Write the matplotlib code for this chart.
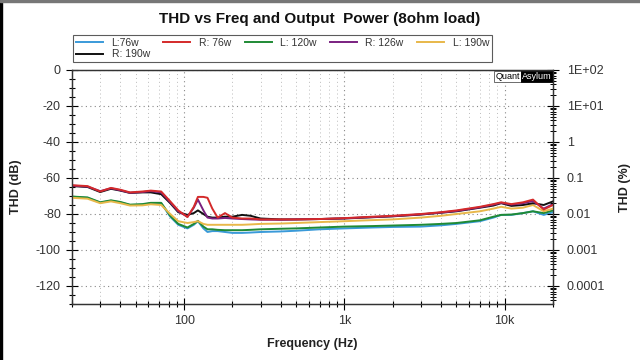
import matplotlib
matplotlib.use("Agg")
import matplotlib.pyplot as plt
import matplotlib.ticker as mticker
from matplotlib.patches import Rectangle
import numpy as np

plt.rcParams['font.family'] = ['Liberation Sans', 'DejaVu Sans']
plt.rcParams['axes.unicode_minus'] = False

freq = [20, 25, 30, 35, 40, 46, 55, 62, 72, 82, 92, 105, 115, 122, 132, 140, 150, 162, 180, 200,
        230, 260, 300, 400, 500, 700, 1000, 1500, 2000, 3000, 4000, 5000, 7000, 8500, 9500,
        11000, 13000, 15000, 17500, 20000]

l76 = [-70.5, -71, -73.7, -72.6, -73.5, -75, -74.8, -74, -74, -81.5, -86, -88, -86, -84, -88, -90,
       -89.5, -89.5, -90, -90.5, -90.5, -90.3, -90, -89.7, -89.3, -88.5, -88, -87.5, -87.2, -87,
       -86.3, -85.5, -84, -82, -80.5, -80.5, -79.5, -78.5, -80.5, -79]
r76 = [-64, -64.5, -67.5, -65.5, -66.5, -68, -67.5, -67, -67.5, -73, -78, -81.7, -76, -70.5, -70.5,
       -71, -77, -82, -79.5, -82, -82.5, -82.5, -83, -83, -83, -82.8, -82.3, -81.5, -81, -80,
       -79, -78, -76, -74.5, -73.5, -74.5, -73.5, -72, -77.5, -75]
l120 = [-70.3, -70.8, -73.5, -72.4, -73.3, -74.8, -74.5, -73.8, -73.8, -81, -85.5, -87.5, -85.5,
        -83.8, -87, -88.5, -88.5, -88.8, -89, -89, -89, -88.8, -88.5, -88.2, -88, -87.5, -87,
        -86.7, -86.4, -86, -85.5, -85, -83.5, -81.5, -80.5, -80.3, -79.5, -78.5, -79.5, -78]
r126 = [-64.2, -64.8, -67.3, -65.7, -66.8, -68.2, -67.8, -67.3, -68, -73.5, -78.5, -81.5, -76.5,
        -72, -78, -82, -82.5, -82.5, -82.2, -82.5, -82.8, -83, -83.2, -83.2, -83, -82.8, -82.4,
        -81.7, -81.2, -80.2, -79.2, -78.3, -76.3, -74.8, -73.8, -74.8, -74, -72.8, -77, -74.5]
l190 = [-71, -71.5, -74, -73, -74, -75.3, -75.2, -74.6, -75, -80, -84, -85, -84.5, -84, -85.5,
        -86, -86, -86, -86, -86, -86, -85.8, -85.5, -85.3, -85, -84.5, -84, -83.4, -83, -82,
        -81, -80, -78.5, -77, -76, -77, -76.5, -75, -78.5, -77]
r190 = [-64.5, -65, -67.8, -66, -67, -68.3, -68, -68, -69, -74, -79, -80.5, -79.5, -78, -80,
        -81.5, -82, -82, -81.5, -81.5, -80.5, -81, -82.5, -83, -83, -82.8, -82.5, -81.8, -81.3,
        -80.3, -79.3, -78.5, -76.5, -75.3, -74, -75.5, -75, -74, -75, -73]

labels = ["L:76w", "R: 76w", "L: 120w", "R: 126w", "L: 190w", "R: 190w"]
colors = ["#3a9ad9", "#d42a2a", "#1f8a35", "#7a2080", "#e8b84a", "#101010"]
series = [l76, r76, l120, r126, l190, r190]
zorders = [3, 7, 4, 6, 5, 5.5]

pct_ticks = [1e2, 1e1, 1, 0.1, 0.01, 0.001, 0.0001]
pct_labels = ["1E+02", "1E+01", "1", "0.1", "0.01", "0.001", "0.0001"]

fig = plt.figure(figsize=(6.4, 3.6), dpi=100)
ax = fig.add_axes([72/640, 1-304/360, (553-72)/640, (304-70)/360])

lines = []
for y, lab, c, z in zip(series, labels, colors, zorders):
    ln, = ax.plot(freq, y, color=c, lw=1.4, label=lab, zorder=z)
    lines.append(ln)

ax.set_xscale('log')
ax.set_xlim(20, 20000)
ax.set_ylim(-130, 0)
ax.set_yticks(np.arange(-120, 1, 20))
ax.yaxis.set_minor_locator(mticker.MultipleLocator(5))
ax.xaxis.set_major_locator(mticker.FixedLocator([100, 1000, 10000]))
ax.xaxis.set_major_formatter(mticker.FixedFormatter(["100", "1k", "10k"]))
ax.xaxis.set_minor_locator(mticker.LogLocator(base=10, subs=np.arange(2, 10)))
ax.xaxis.set_minor_formatter(mticker.NullFormatter())

ax.grid(True, which='major', color='#888888', linestyle=(0, (1, 3)), lw=0.8)
ax.grid(True, which='minor', axis='x', color='#bbbbbb', linestyle=(0, (1, 3)), lw=0.7)

ax.tick_params(which='major', direction='inout', length=8, width=0.8, labelsize=9,
               labelcolor='#333333', pad=4)
ax.tick_params(which='minor', direction='inout', length=5, width=0.8)
for s in ax.spines.values():
    s.set_color('#333333')
    s.set_linewidth(0.9)

ax.set_xlabel("Frequency (Hz)", fontsize=9, fontweight='bold', color='#222222', labelpad=8)
ax.set_ylabel("THD (dB)", fontsize=9, fontweight='bold', color='#222222', labelpad=10)

ax2 = ax.twinx()
ax2.set_yscale('log')
ax2.set_ylim(100 * 10 ** (-130 / 20), 100)
ax2.yaxis.set_major_locator(mticker.FixedLocator(pct_ticks))
ax2.yaxis.set_major_formatter(mticker.FixedFormatter(pct_labels))
ax2.yaxis.set_minor_locator(mticker.LogLocator(base=10, subs=np.arange(2, 10)))
ax2.yaxis.set_minor_formatter(mticker.NullFormatter())
ax2.tick_params(which='major', direction='inout', length=8, width=0.8, labelsize=9,
                labelcolor='#333333', pad=6)
ax2.tick_params(which='minor', direction='inout', length=5, width=0.7)
ax2.set_ylabel("THD (%)", fontsize=9, fontweight='bold', color='#222222', labelpad=10)
for s in ax2.spines.values():
    s.set_color('#333333')
    s.set_linewidth(0.9)

# QuantAsylum logo
ax.text((520-72)/481, 0.993, "Quant", transform=ax.transAxes, fontsize=6.5, color='black',
        ha='right', va='top', bbox=dict(boxstyle='square,pad=0.12', fc='white', ec='#555555', lw=0.6),
        zorder=10)
ax.text((522-72)/481, 0.993, "Asylum", transform=ax.transAxes, fontsize=6.5, color='white',
        ha='left', va='top', bbox=dict(boxstyle='square,pad=0.12', fc='black', ec='black', lw=0.6),
        zorder=10)

fig.suptitle("THD vs Freq and Output  Power (8ohm load)", x=0.5, y=0.967, fontsize=11,
             fontweight='bold', color='#111111')

order = [0, 5, 1, 2, 3, 4]
leg = fig.legend(handles=[lines[i] for i in order], labels=[labels[i] for i in order],
                 loc='upper left', bbox_to_anchor=(73/640, 1-35/360), ncol=5, fontsize=7.5,
                 frameon=True, fancybox=False, edgecolor='#333333', handlelength=2.6,
                 handletextpad=0.8, columnspacing=1.3, borderpad=0.3, labelspacing=0.1,
                 borderaxespad=0)
leg.get_frame().set_linewidth(0.8)
for t in leg.get_texts():
    t.set_color('#333333')

# screenshot edge
fig.patches.append(Rectangle((0, 0), 2/640, 1, transform=fig.transFigure, color='black'))
fig.patches.append(Rectangle((0, 1-2/360), 1, 2/360, transform=fig.transFigure, color='#777777'))

fig.savefig("out.png", dpi=100, facecolor='white')
